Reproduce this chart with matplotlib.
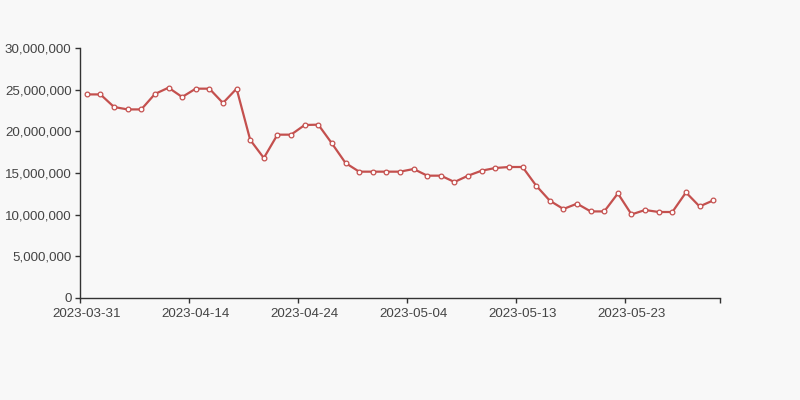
import matplotlib
matplotlib.use("Agg")
import matplotlib.pyplot as plt
from matplotlib.ticker import FuncFormatter

dates = [
    "2023-03-31", "2023-04-03", "2023-04-04", "2023-04-06", "2023-04-07", "2023-04-10",
    "2023-04-11", "2023-04-12", "2023-04-14", "2023-04-17", "2023-04-18", "2023-04-19",
    "2023-04-20", "2023-04-21", "2023-04-22", "2023-04-23", "2023-04-24", "2023-04-25",
    "2023-04-26", "2023-04-27", "2023-04-28", "2023-04-29", "2023-05-02", "2023-05-03",
    "2023-05-04", "2023-05-05", "2023-05-06", "2023-05-08", "2023-05-09", "2023-05-10",
    "2023-05-11", "2023-05-12", "2023-05-13", "2023-05-15", "2023-05-16", "2023-05-17",
    "2023-05-18", "2023-05-19", "2023-05-20", "2023-05-22", "2023-05-23", "2023-05-24",
    "2023-05-25", "2023-05-26", "2023-05-29", "2023-05-30", "2023-05-31",
]

values = [
    24.43, 24.43, 22.92, 22.63, 22.63, 24.48, 25.24, 24.12, 25.12, 25.12,
    23.40, 25.12, 18.97, 16.80, 19.60, 19.60, 20.76, 20.80, 18.55, 16.20,
    15.16, 15.16, 15.16, 15.16, 15.48, 14.68, 14.68, 13.92, 14.68, 15.28,
    15.60, 15.72, 15.72, 13.48, 11.68, 10.68, 11.32, 10.39, 10.39, 12.55,
    10.03, 10.56, 10.32, 10.32, 12.67, 10.99, 11.71,
]
values = [v * 1_000_000 for v in values]

label_every = 8
y_ticks = [0, 5_000_000, 10_000_000, 15_000_000, 20_000_000, 25_000_000, 30_000_000]

bg = "#f8f8f8"
line_color = "#c4504e"
axis_color = "#333333"
text_color = "#444444"
fs = 9.6

plt.rcParams["font.family"] = ["Liberation Sans", "DejaVu Sans"]

fig = plt.figure(figsize=(8, 4), dpi=100, facecolor=bg)
ax = fig.add_axes([0.1, 0.255, 0.8, 0.625], facecolor=bg)

x = list(range(len(values)))
ax.plot(x, values, color=line_color, lw=1.6, marker="o", ms=3.4,
        mfc="white", mec=line_color, mew=0.9, zorder=3)

n = len(values)
ax.set_xlim(-0.5, n - 0.5)
ax.set_ylim(0, 30_000_000)

tick_idx = list(range(0, n, label_every))
# tick marks at category boundaries
ax.set_xticks([i - 0.5 for i in tick_idx] + [n - 0.5])
ax.set_xticklabels([])
# labels at category centres
ax.set_xticks(tick_idx, minor=True)
ax.set_xticklabels([dates[i] for i in tick_idx], minor=True)
ax.tick_params(axis="x", which="minor", length=0, pad=7.3,
               labelsize=fs, labelcolor=text_color)

ax.set_yticks(y_ticks)
ax.yaxis.set_major_formatter(FuncFormatter(lambda v, p: f"{int(v):,}"))

for s in ["top", "right"]:
    ax.spines[s].set_visible(False)
for s in ["left", "bottom"]:
    ax.spines[s].set_color(axis_color)
    ax.spines[s].set_linewidth(1)

ax.tick_params(axis="both", which="major", colors=axis_color, labelcolor=text_color,
               length=3.6, width=1, labelsize=fs)
ax.tick_params(axis="y", pad=2.5)

fig.savefig("out.png", dpi=100, facecolor=bg)
